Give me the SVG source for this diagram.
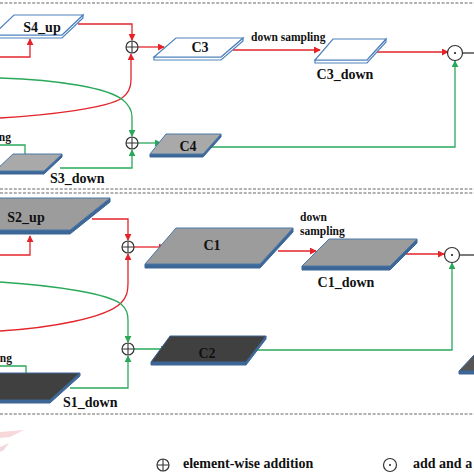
<svg xmlns="http://www.w3.org/2000/svg" width="474" height="474" viewBox="0 0 474 474">
<defs>
<style>
.dash{stroke:#666;stroke-width:1.2;stroke-dasharray:3 1.6;fill:none}
.r{stroke:#e3242b;stroke-width:1.3;fill:none}
.g{stroke:#2aa85a;stroke-width:1.3;fill:none}
.k{stroke:#333;stroke-width:1.3;fill:none}
.lbl{font-family:"Liberation Serif","Times New Roman",serif;font-weight:bold;fill:#111}
.big{font-size:14px}
.sm{font-size:11.5px}
.op{fill:#fff;stroke:#333;stroke-width:1.2}
.opl{stroke:#333;stroke-width:1.1;fill:none}
.wside{fill:#fff;stroke:#4f81bd;stroke-width:1.2}
.wtop{fill:#fff;stroke:#4f81bd;stroke-width:1.2}
.bside{fill:#3d6796;stroke:#3d6796;stroke-width:1}
.gtop{fill:#9c9c9c;stroke:#4a78aa;stroke-width:1}
.ltop{fill:#a9a9a9;stroke:#4a78aa;stroke-width:1}
.dtop{fill:#404040;stroke:#3d6796;stroke-width:1}
</style>
<marker id="ar" viewBox="0 0 8 8" refX="7" refY="4" markerWidth="7" markerHeight="7" markerUnits="userSpaceOnUse" orient="auto"><path d="M0,0 L8,4 L0,8 z" fill="#e3242b"/></marker>
<marker id="ag" viewBox="0 0 8 8" refX="7" refY="4" markerWidth="7" markerHeight="7" markerUnits="userSpaceOnUse" orient="auto"><path d="M0,0 L8,4 L0,8 z" fill="#2aa85a"/></marker>
</defs>
<rect width="474" height="474" fill="#fff"/>

<g id="separators">
<line class="dash" x1="0" y1="3" x2="474" y2="3"/>
<line class="dash" x1="0" y1="189" x2="474" y2="189"/>
<line class="dash" x1="0" y1="193" x2="474" y2="193"/>
<line class="dash" x1="0" y1="414" x2="474" y2="414"/>
</g>

<g id="smear">
<path d="M0,432 L24,430 L10,437 L0,438 z" fill="#f3c9cc" opacity="0.7"/>
<path d="M0,447 L9,443 L4,450 L0,452 z" fill="#e8c2c4" opacity="0.6"/>
</g>

<g id="connectors">
<path class="r" d="M78,24 H132 V40" marker-end="url(#ar)"/>
<path class="r" d="M0,57 H30 V39" marker-end="url(#ar)"/>
<path class="r" d="M0,118 C50,115 108,108 122,98 C129,93 131,87 131,80 L131,54" marker-end="url(#ar)"/>
<path class="g" d="M0,78 C60,80 108,88 123,100 C129,105 132,110 132,117 L132,136" marker-end="url(#ag)"/>
<path class="r" d="M138,47 H164" marker-end="url(#ar)"/>
<path class="r" d="M233,50 H320" marker-end="url(#ar)"/>
<path class="r" d="M375,52 H448" marker-end="url(#ar)"/>
<path class="k" d="M462,53 H474"/>
<path class="g" d="M138,143 H161" marker-end="url(#ag)"/>
<path class="g" d="M212,147 H455 V61" marker-end="url(#ag)"/>
<path class="g" d="M60,168 H132 V150" marker-end="url(#ag)"/>
<path class="g" d="M0,145 H25 V165" marker-end="url(#ag)"/>

<path class="r" d="M92,219 H128 V240" marker-end="url(#ar)"/>
<path class="r" d="M0,255 H30 V236" marker-end="url(#ar)"/>
<path class="r" d="M0,331 C50,328 106,318 121,303 C127,297 128,291 128,283 L128,254" marker-end="url(#ar)"/>
<path class="g" d="M0,282 C60,286 108,294 121,304 C127,309 128,314 128,321 L128,342" marker-end="url(#ag)"/>
<path class="r" d="M134,247 H165" marker-end="url(#ar)"/>
<path class="r" d="M278,251 H316" marker-end="url(#ar)"/>
<path class="r" d="M405,254 H444" marker-end="url(#ar)"/>
<path class="k" d="M460,255 H474"/>
<path class="g" d="M134,349 H167" marker-end="url(#ag)"/>
<path class="g" d="M255,350 H452 V263" marker-end="url(#ag)"/>
<path class="g" d="M70,388 H128 V356" marker-end="url(#ag)"/>
<path class="g" d="M0,366 H26 V385" marker-end="url(#ag)"/>
</g>

<g id="S4_up">
<path class="wside" d="M83,15 L83,18 L62,38 L-7,38 L-7,35 L62,35 z"/>
<path class="wtop" d="M14,15 L83,15 L62,35 L-7,35 z"/>
<text class="lbl big" x="42" y="32" text-anchor="middle">S4_up</text>
</g>

<g id="C3">
<path class="wside" d="M243,38 L243,41 L221,60 L154,60 L154,57 L221,57 z"/>
<path class="wtop" d="M176,38 L243,38 L221,57 L154,57 z"/>
<text class="lbl big" x="200" y="52" text-anchor="middle">C3</text>
</g>

<g id="C3_down">
<path class="wside" d="M386,39 L386,42 L367,63 L315,63 L315,60 L367,60 z"/>
<path class="wtop" d="M333,39 L386,39 L367,60 L315,60 z"/>
<text class="lbl big" x="345" y="79" text-anchor="middle">C3_down</text>
</g>
<text class="lbl sm" x="251" y="41">down sampling</text>

<g id="C4">
<path class="bside" d="M221,134 L221,137 L203,157 L150,157 L150,154 L203,154 z"/>
<path class="ltop" d="M166,134 L221,134 L203,154 L150,154 z"/>
<text class="lbl big" x="188" y="151" text-anchor="middle">C4</text>
</g>

<g id="S3_down">
<path class="bside" d="M62,154 L62,157 L44,174 L-5,174 L-5,171 L44,171 z"/>
<path class="ltop" d="M13,154 L62,154 L44,171 L-5,171 z"/>
<text class="lbl big" x="50" y="183">S3_down</text>
</g>
<text class="lbl sm" x="11" y="141" text-anchor="end">ng</text>

<g id="add1"><circle class="op" cx="132" cy="47" r="6"/><path class="opl" d="M126,47 H138 M132,41 V53"/></g>
<g id="add2"><circle class="op" cx="132" cy="143" r="6"/><path class="opl" d="M126,143 H138 M132,137 V149"/></g>
<g id="avg1"><circle class="op" cx="455" cy="53" r="7.5"/><circle cx="455" cy="53" r="1.1" fill="#222"/></g>

<g id="S2_up">
<path class="bside" d="M110,198 L110,202 L70,234 L-45,234 L-45,230 L70,230 z"/>
<path class="gtop" d="M-5,198 L110,198 L70,230 L-45,230 z"/>
<text class="lbl big" x="26" y="222" text-anchor="middle">S2_up</text>
</g>

<g id="C1">
<path class="bside" d="M293,228 L293,232 L260,268 L145,268 L145,264 L260,264 z"/>
<path class="gtop" d="M176,228 L293,228 L260,264 L145,264 z"/>
<text class="lbl big" x="212" y="250" text-anchor="middle">C1</text>
</g>
<text class="lbl sm" x="300" y="221">down</text>
<text class="lbl sm" x="300" y="235">sampling</text>

<g id="C1_down">
<path class="bside" d="M417,239 L417,243 L390,270 L302,270 L302,266 L390,266 z"/>
<path class="gtop" d="M329,239 L417,239 L390,266 L302,266 z"/>
<text class="lbl big" x="346" y="287" text-anchor="middle">C1_down</text>
</g>

<g id="C2">
<path class="bside" d="M266,336 L266,339 L246,365 L151,365 L151,362 L246,362 z"/>
<path class="dtop" d="M170,336 L266,336 L246,362 L151,362 z"/>
<text class="lbl big" x="207" y="358" text-anchor="middle">C2</text>
</g>

<g id="S1_down">
<path class="bside" d="M80,373 L80,376 L50,403 L-50,403 L-50,400 L50,400 z"/>
<path class="dtop" d="M-20,373 L80,373 L50,400 L-50,400 z"/>
<text class="lbl big" x="63" y="407">S1_down</text>
</g>
<text class="lbl sm" x="12" y="362" text-anchor="end">ng</text>

<g id="partial_right">
<path class="bside" d="M520,355 L520,358 L505,374 L459,374 L459,371 L505,371 z"/>
<path class="dtop" d="M474,355 L520,355 L505,371 L459,371 z" style="fill:#555"/>
</g>

<g id="add3"><circle class="op" cx="128" cy="247" r="6"/><path class="opl" d="M122,247 H134 M128,241 V253"/></g>
<g id="add4"><circle class="op" cx="128" cy="349" r="6"/><path class="opl" d="M122,349 H134 M128,343 V355"/></g>
<g id="avg2"><circle class="op" cx="452" cy="255" r="7.5"/><circle cx="452" cy="255" r="1.1" fill="#222"/></g>

<g id="legend">
<circle class="op" cx="163" cy="465" r="6"/><path class="opl" d="M157,465 H169 M163,459 V471"/>
<text class="lbl big" x="183" y="468">element-wise addition</text>
<circle class="op" cx="390" cy="465" r="6.5"/><circle cx="390" cy="465" r="1" fill="#222"/>
<text class="lbl big" x="413" y="468">add and a</text>
</g>
</svg>
